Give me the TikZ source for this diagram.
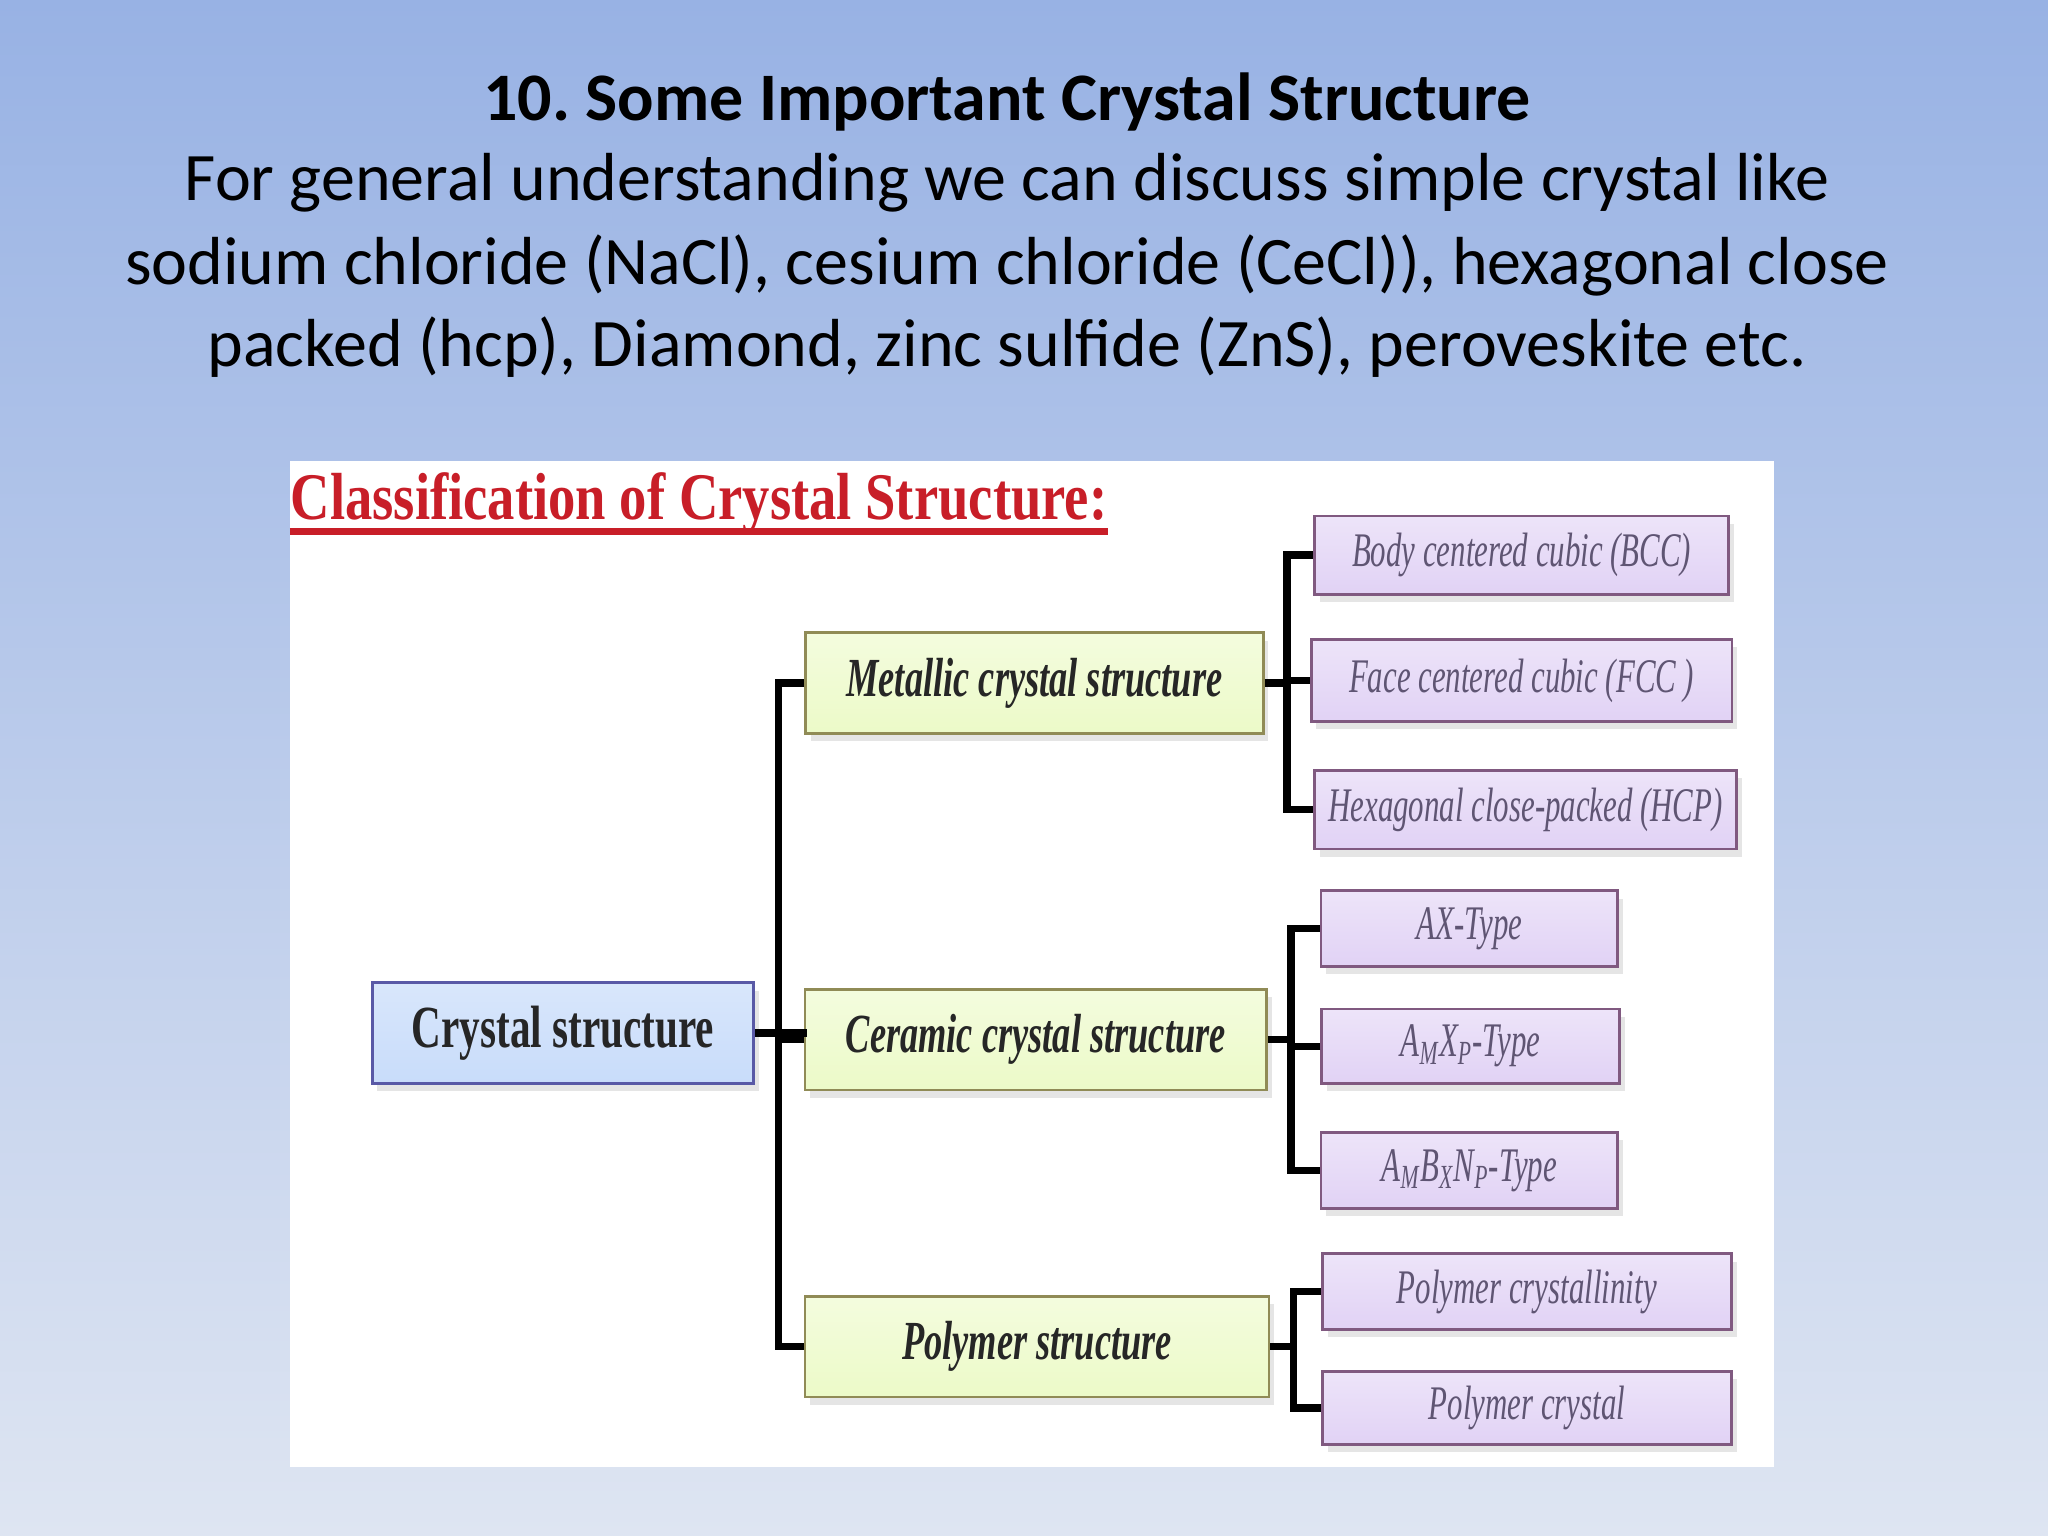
\documentclass[tikz,border=0pt]{standalone}
\usepackage{fontspec}
\setmainfont{Liberation Serif}
\newfontfamily\calfnt{Carlito}
\usetikzlibrary{shadows}
\definecolor{bgtop}{RGB}{152,178,228}
\definecolor{bgbot}{RGB}{222,229,242}
\definecolor{redt}{RGB}{200,30,40}
\definecolor{bluef}{RGB}{200,220,250}
\definecolor{greenf}{RGB}{236,250,200}
\definecolor{purf}{RGB}{225,210,245}
\definecolor{purt}{RGB}{95,85,115}
\frenchspacing
\begin{document}
\begin{tikzpicture}[x=0.01cm,y=-0.01cm,
  box/.style={draw=gray!70,line width=0.6pt,drop shadow={shadow xshift=0.04cm,shadow yshift=-0.06cm,fill=gray!40},inner sep=0pt},
  blu/.style={box,top color=bluef!70!white,bottom color=bluef,draw=blue!30!gray},
  grn/.style={box,top color=greenf!60!white,bottom color=greenf,draw=olive!40!gray},
  pur/.style={box,top color=purf!60!white,bottom color=purf,draw=violet!30!gray},
  conn/.style={line width=1.6pt,black},
  btxt/.style={font=\fontsize{12}{14}\selectfont\bfseries\itshape,xscale=0.66,text=black!85},
  ptxt/.style={font=\fontsize{10.5}{12}\selectfont\itshape,xscale=0.64,text=purt},
  ttl/.style={font=\calfnt\fontsize{14.8}{17}\selectfont,text=black}]
\shade[top color=bgtop,bottom color=bgbot] (0,0) rectangle (1568,1176);
\useasboundingbox (0,0) rectangle (1568,1176);
\node[ttl,font=\calfnt\fontsize{14.8}{17}\selectfont\bfseries] (t0) at (771,78) {10.\ Some Important Crystal Structure};
\node[ttl] (t1) at (771,140) {For general understanding we can discuss simple crystal like};
\node[ttl] (t2) at (771,203) {sodium chloride (NaCl), cesium chloride (CeCl)), hexagonal close};
\node[ttl] (t3) at (771,266) {packed (hcp), Diamond, zinc sulfide (ZnS), peroveskite etc.};
\fill[white] (222,353) rectangle (1358,1123);
\node[anchor=west,inner sep=0pt,font=\fontsize{14.5}{16}\selectfont\bfseries,xscale=0.82,text=redt] (ct) at (222,385) {Classification of Crystal Structure:};
\draw[redt,line width=1.5pt] (222,407) -- (848,407);
\node[blu,minimum width=2.92cm,minimum height=0.77cm] (crys) at (431,791) {};
\node[font=\fontsize{13}{15}\selectfont\bfseries,xscale=0.69,text=black!85] at (crys) {Crystal structure};
\node[grn,minimum width=3.5cm,minimum height=0.77cm] (met) at (792,523) {};
\node[btxt] at (met) {Metallic crystal structure};
\node[grn,minimum width=3.53cm,minimum height=0.77cm] (cer) at (793,796) {};
\node[btxt] at (cer) {Ceramic crystal structure};
\node[grn,minimum width=3.55cm,minimum height=0.77cm] (pol) at (794,1031) {};
\node[btxt] at (pol) {Polymer structure};
\node[pur,minimum width=3.17cm,minimum height=0.6cm] (bcc) at (1165,425) {};
\node[ptxt] at (bcc) {Body centered cubic (BCC)};
\node[pur,minimum width=3.22cm,minimum height=0.63cm] (fcc) at (1165,521) {};
\node[ptxt] at (fcc) {Face centered cubic (FCC )};
\node[pur,minimum width=3.23cm,minimum height=0.6cm] (hcp) at (1168,620) {};
\node[ptxt] at (hcp) {Hexagonal close-packed (HCP)};
\node[pur,minimum width=2.27cm,minimum height=0.58cm] (ax) at (1125,711) {};
\node[ptxt] at (ax) {AX-Type};
\node[pur,minimum width=2.28cm,minimum height=0.57cm] (amx) at (1126,801) {};
\node[ptxt] at (amx) {A\textsubscript{M}X\textsubscript{P}-Type};
\node[pur,minimum width=2.27cm,minimum height=0.58cm] (ambx) at (1125,896) {};
\node[ptxt] at (ambx) {A\textsubscript{M}B\textsubscript{X}N\textsubscript{P}-Type};
\node[pur,minimum width=3.13cm,minimum height=0.58cm] (pc) at (1169,989) {};
\node[ptxt] at (pc) {Polymer crystallinity};
\node[pur,minimum width=3.13cm,minimum height=0.56cm] (pcr) at (1169,1078) {};
\node[ptxt] at (pcr) {Polymer crystal};
% connectors
\draw[conn] (crys.east) -- ++(40,0);
\draw[conn] (met.west) -- ++(-20,0) |- (pol.west);
\draw[conn] (cer.west) -- ++(-20,0);
\draw[conn] (met.east) -- ++(20,0);
\draw[conn] (bcc.west) -- ++(-20,0) |- (hcp.west);
\draw[conn] (fcc.west) -- ++(-17,0);
\draw[conn] (cer.east) -- ++(20,0);
\draw[conn] (ax.west) -- ++(-22,0) |- (ambx.west);
\draw[conn] (amx.west) -- ++(-22,0);
\draw[conn] (pol.east) -- ++(20,0);
\draw[conn] (pc.west) -- ++(-21,0) |- (pcr.west);
\end{tikzpicture}
\end{document}
